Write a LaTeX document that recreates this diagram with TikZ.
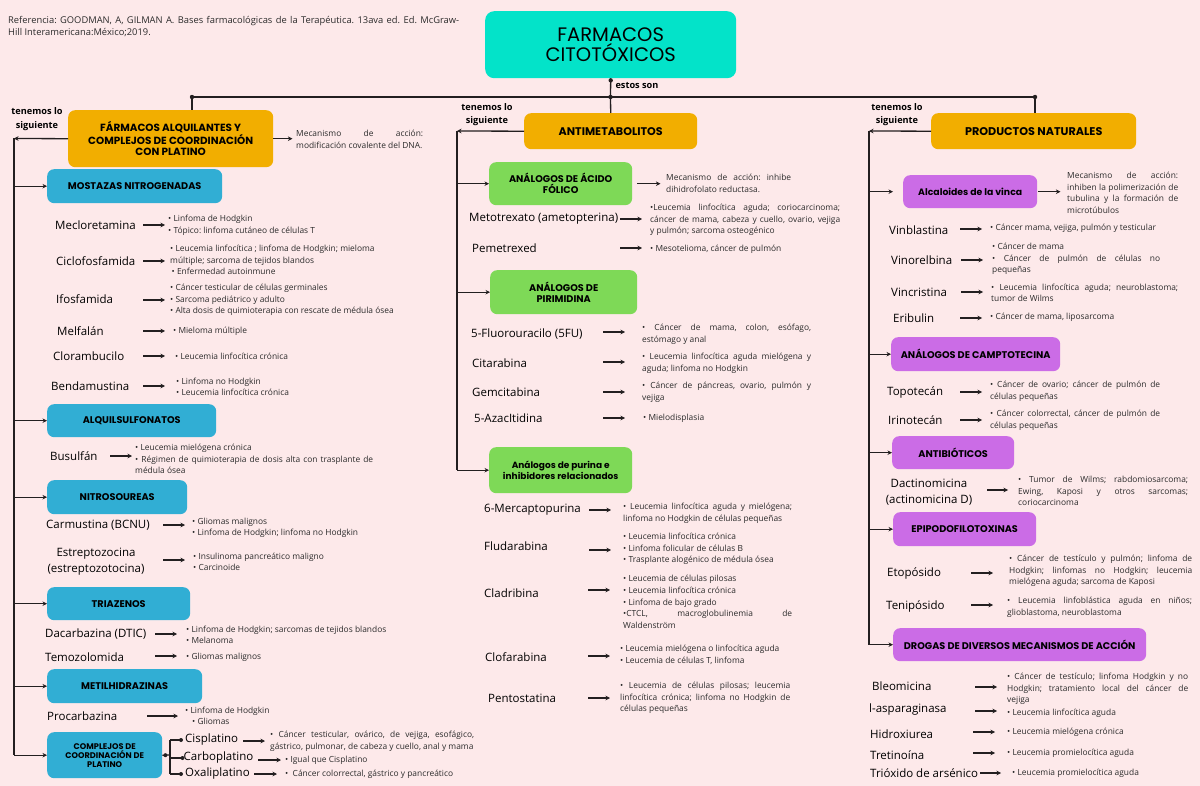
\documentclass[tikz,border=0pt]{standalone}
\usepackage{fontspec}
\setmainfont{Open Sans}
\newfontfamily\hf{Poppins}
\usetikzlibrary{arrows.meta,calc}
\definecolor{bg}{HTML}{FDE9EA}
\definecolor{tealc}{HTML}{03E3C9}
\definecolor{orng}{HTML}{F2AE00}
\definecolor{blu}{HTML}{31AED4}
\definecolor{grn}{HTML}{7ED957}
\definecolor{prp}{HTML}{CB6CE6}
\definecolor{ink}{HTML}{231F20}
\definecolor{txt}{HTML}{2B2B2B}
\hyphenpenalty=10000
\hbadness=10000
\hfuzz=20pt
\frenchspacing
\newcommand\arw[3]{\draw[arr] (#1,#3) -- (#2,#3);}
\begin{document}
\frenchspacing
\begin{tikzpicture}[x=1pt,y=-1pt,
  every node/.style={inner sep=0pt, text=txt},
  line/.style={draw=ink, line width=1.3pt},
  arr/.style={line, -{Stealth[length=4.5pt,width=4.5pt]}},
  hdr/.style={anchor=north west, rounded corners=7pt, align=center, font=\hf\bfseries\fontsize{9.7}{11.5}\selectfont, text=black},
  big/.style={hdr, font=\hf\bfseries\fontsize{11.1}{13}\selectfont},
  drug/.style={anchor=west, align=center, font=\fontsize{11.5}{16}\selectfont, text=black},
  desc/.style={anchor=west, align=left, font=\fontsize{8.4}{11.6}\selectfont},
  jd/.style={desc, align=justify, text width=#1},
  lab/.style={align=center, font=\bfseries\fontsize{9.2}{13.5}\selectfont, text=black},
]
\fill[bg] (0,0) rectangle (1200,786);
\useasboundingbox (0,0) rectangle (1200,786);

% ---------- reference and title ----------
\node[anchor=north west, align=justify, text width=451, font=\fontsize{9.35}{12.2}\selectfont] (ref) at (8,16)
  {Referencia: GOODMAN, A, GILMAN A. Bases farmacológicas de la Terapéutica. 13ava ed. Ed. McGraw-\linebreak Hill Interamericana:México;2019.};
\node[anchor=north west, fill=tealc, rounded corners=9pt, minimum width=251, minimum height=67, align=center,
  font=\hf\fontsize{19.5}{20}\selectfont, text=black] (title) at (485,11) {FARMACOS\\CITOTÓXICOS};

\node[big, fill=orng, minimum width=205, minimum height=57, font=\hf\bfseries\fontsize{10.4}{11.2}\selectfont] (alq) at (68,110)
  {FÁRMACOS ALQUILANTES Y\\COMPLEJOS DE COORDINACIÓN\\CON PLATINO};
\node[big, fill=orng, minimum width=173, minimum height=36] (anti) at (524,113) {ANTIMETABOLITOS};
\node[big, fill=orng, minimum width=205, minimum height=36, font=\hf\bfseries\fontsize{11.2}{13}\selectfont] (prod) at (931,113) {PRODUCTOS NATURALES};

\coordinate (hub) at (610.5,97);
\coordinate (Lc) at (192,97);
\coordinate (Rc) at (1035,97);
\draw[line] (title.south) -- (hub);
\draw[line] (Lc) -- (Rc);
\draw[line] (Lc) -- (Lc |- alq.north);
\draw[line] (hub) -- (anti.north);
\draw[line] (Rc) -- (Rc |- prod.north);
\fill[ink] ($(title.south)+(0,2)$) circle (2.2);
\fill[ink] (hub) circle (2.2);
\fill[ink] (Lc) circle (2.2);
\fill[ink] (Rc) circle (2.2);
\node[lab] (estos) at (637,86) {estos son};

\node[lab] (t1) at (37,119) {tenemos lo\\siguiente};
\node[lab] (t2) at (487,114.5) {tenemos lo\\siguiente};
\node[lab] (t3) at (897,114.5) {tenemos lo\\siguiente};

% ---------- left column ----------
\draw[arr] (alq.east) -- ++(19,0);
\node[jd=127] (alqmec) at (296,139.5) {Mecanismo de acción:\linebreak \mbox{modificación covalente del DNA.}};

\node[hdr, fill=blu, minimum width=175, minimum height=34] (most) at (47,169) {MOSTAZAS NITROGENADAS};
\node[hdr, fill=blu, minimum width=169, minimum height=33] (alqs) at (47,404) {ALQUILSULFONATOS};
\node[hdr, fill=blu, minimum width=140, minimum height=34] (nitro) at (47,480) {NITROSOUREAS};
\node[hdr, fill=blu, minimum width=143, minimum height=33] (tria) at (47,587) {TRIAZENOS};
\node[hdr, fill=blu, minimum width=155, minimum height=34] (metil) at (47,669) {METILHIDRAZINAS};
\node[hdr, fill=blu, minimum width=115, minimum height=46, font=\hf\bfseries\fontsize{8.2}{9}\selectfont] (compl) at (47,732) {COMPLEJOS DE\\COORDINACIÓN DE\\PLATINO};

\coordinate (LS) at (14,138.5);
\draw[arr] (alq.west) -- (LS);
\draw[line] (LS) -- (LS |- compl.west);
\foreach \b in {most,alqs,nitro,tria,metil,compl} \draw[arr] (\b.west -| LS) -- (\b.west);

\node[drug] (m1) at (55,225) {Mecloretamina};
\arw{143}{165}{225}
\node[desc] (d1) at (168,225) {• Linfoma de Hodgkin\\• Tópico: linfoma cutáneo de células T};

\node[drug] (m2) at (56,261) {Ciclofosfamida};
\arw{143}{165}{261}
\node[desc] (d2) at (170,260) {• Leucemia linfocítica ; linfoma de Hodgkin; mieloma\\múltiple; sarcoma de tejidos blandos\\\hspace*{1.5pt}• Enfermedad autoinmune};

\node[drug] (m3) at (56,299) {Ifosfamida};
\arw{143}{165}{300}
\node[desc] (d3) at (170,300) {• Cáncer testicular de células germinales\\• Sarcoma pediátrico y adulto\\• Alta dosis de quimioterapia con rescate de médula ósea};

\node[drug] (m4) at (57,331) {Melfalán};
\arw{143}{165}{331}
\node[desc] (d4) at (173,331) {• Mieloma múltiple};

\node[drug] (m5) at (53,356) {Clorambucilo};
\arw{143}{165}{356}
\node[desc] (d5) at (175,356) {• Leucemia linfocítica crónica};

\node[drug] (m6) at (51,386) {Bendamustina};
\arw{143}{165}{386}
\node[desc] (d6) at (176,387) {• Linfoma no Hodgkin\\• Leucemia linfocítica crónica};

\node[drug] (m7) at (50,456) {Busulfán};
\arw{110}{132}{456}
\node[jd=238] (d7) at (135,459) {• Leucemia mielógena crónica\par • Régimen de quimioterapia de dosis alta con trasplante de\linebreak médula ósea};

\node[drug] (m8) at (46,525) {Carmustina (BCNU)};
\arw{163}{185}{525}
\node[desc] (d8) at (192,528) {• Gliomas malignos\\• Linfoma de Hodgkin; linfoma no Hodgkin};

\node[drug, anchor=center] (m9) at (96,562) {Estreptozocina\\(estreptozotocina)};
\arw{163}{185}{560}
\node[desc] (d9) at (193,562) {• Insulinoma pancreático maligno\\• Carcinoide};

\node[drug] (m10) at (45,634) {Dacarbazina (DTIC)};
\arw{155}{177}{634}
\node[desc] (d10) at (186,635) {• Linfoma de Hodgkin; sarcomas de tejidos blandos\\• Melanoma};

\node[drug] (m11) at (45,657) {Temozolomida};
\arw{155}{177}{656}
\node[desc] (d11) at (186,657) {• Gliomas malignos};

\node[drug] (m12) at (47,716) {Procarbazina};
\arw{147}{178}{716}
\node[desc] (d12) at (185,716) {• Linfoma de Hodgkin\\\hspace*{7pt}• Gliomas};

% platinum bracket
\node[drug] (p1) at (185,740) {Cisplatino};
\node[drug] (p2) at (183.5,758) {Carboplatino};
\node[drug] (p3) at (185,774) {Oxaliplatino};
\coordinate (PB) at (170,755);
\draw[line] (compl.east) -- (PB);
\draw[line] (PB |- p1.west) -- (PB |- p3.west);
\draw[line] (PB |- p1.west) -- ([xshift=-4]p1.west);
\draw[line] (PB |- p2.west) -- ([xshift=-1]p2.west);
\draw[line] (PB |- p3.west) -- ([xshift=-4]p3.west);
\fill[ink] ([xshift=3]compl.east) circle (2);
\fill[ink] ([xshift=-4]p1.west) circle (2);
\fill[ink] ([xshift=-1]p2.west) circle (2);
\fill[ink] ([xshift=-4]p3.west) circle (2);
\arw{243}{265}{741}
\arw{258}{281}{760}
\arw{254}{277}{774}
\node[jd=204] (dp1) at (270,741) {• Cáncer testicular, ovárico, de vejiga, esofágico,\linebreak gástrico, pulmonar, de cabeza y cuello, anal y mama};
\node[desc] (dp2) at (285,760) {• Igual que Cisplatino};
\node[desc] (dp3) at (285,774) {•\ \ Cáncer colorrectal, gástrico y pancreático};

% ---------- middle column ----------
\coordinate (MS) at (457,131);
\draw[arr] (anti.west) -- (MS);
\node[hdr, fill=grn, minimum width=143, minimum height=43, font=\hf\bfseries\fontsize{9.7}{11.2}\selectfont] (fol) at (489,162) {ANÁLOGOS DE ÁCIDO\\FÓLICO};
\node[hdr, fill=grn, minimum width=147, minimum height=44, font=\hf\bfseries\fontsize{9.7}{11.2}\selectfont] (pir) at (490,270) {ANÁLOGOS DE\\PIRIMIDINA};
\node[hdr, fill=grn, minimum width=143, minimum height=46, font=\hf\bfseries\fontsize{9}{11}\selectfont] (pur) at (489,447) {Análogos de purina e\\inhibidores relacionados};
\draw[line] (MS) -- (MS |- pur.west);
\foreach \b in {fol,pir,pur} \draw[arr] (\b.west -| MS) -- (\b.west);

\draw[arr] ([xshift=5]fol.east) -- ++(23,0);
\node[jd=125] (folmec) at (666,183.5) {Mecanismo de acción: inhibe\linebreak dihidrofolato reductasa.};

\node[drug] (a1) at (469,219) {Metotrexato (ametopterina)};
\arw{620}{642}{219}
\node[jd=190] (e1) at (650,220) {•Leucemia linfocítica aguda; coriocarcinoma;\linebreak cáncer de mama, cabeza y cuello, ovario, vejiga\linebreak y pulmón; sarcoma osteogénico};

\node[drug] (a2) at (472,248) {Pemetrexed};
\arw{620}{642}{248}
\node[desc] (e2) at (650,249) {• Mesotelioma, cáncer de pulmón};

\node[drug] (a3) at (471,334) {5-Fluorouracilo (5FU)};
\arw{603}{625}{332}
\node[jd=169] (e3) at (642,334) {• Cáncer de mama, colon, esófago,\linebreak estómago y anal};

\node[drug] (a4) at (472,363) {Citarabina};
\arw{603}{625}{362}
\node[jd=169] (e4) at (642,363) {• Leucemia linfocítica aguda mielógena y\linebreak aguda; linfoma no Hodgkin};

\node[drug] (a5) at (472,392) {Gemcitabina};
\arw{603}{625}{392}
\node[jd=169] (e5) at (642,392) {• Cáncer de páncreas, ovario, pulmón y\linebreak vejiga};

\node[drug] (a6) at (474,418) {5-AzacItidina};
\arw{603}{625}{418}
\node[desc] (e6) at (643,418) {• Mielodisplasia};

\node[drug] (a7) at (484,510) {6-Mercaptopurina};
\arw{589}{611}{510}
\node[jd=169] (e7) at (623,513) {• Leucemia linfocítica aguda y mielógena;\linebreak linfoma no Hodgkin de células pequeñas};

\node[drug] (a8) at (484,546) {Fludarabina};
\arw{589}{611}{550}
\node[desc] (e8) at (623,549) {• Leucemia linfocítica crónica\\• Linfoma folicular de células B\\• Trasplante alogénico de médula ósea};

\node[drug] (a9) at (484,593) {Cladribina};
\arw{588}{610}{590}
\node[jd=169] (e9) at (623,602) {• Leucemia de células pilosas\par • Leucemia linfocítica crónica\par • Linfoma de bajo grado\par •CTCL, macroglobulinemia de\linebreak Waldenström};

\node[drug] (a10) at (485,657) {Clofarabina};
\arw{588}{610}{656}
\node[desc] (e10) at (620,655) {• Leucemia mielógena o linfocítica aguda\\• Leucemia de células T, linfoma};

\node[drug] (a11) at (488,698) {Pentostatina};
\arw{588}{610}{698}
\node[jd=170] (e11) at (620,698) {• Leucemia de células pilosas; leucemia\linebreak linfocítica crónica; linfoma no Hodgkin de\linebreak células pequeñas};

% ---------- right column ----------
\coordinate (RS) at (869,131);
\draw[arr] (prod.west) -- (RS);
\node[hdr, fill=prp, minimum width=134, minimum height=33, font=\hf\bfseries\fontsize{9.3}{11}\selectfont] (vinca) at (903,175) {Alcaloides de la vinca};
\node[hdr, fill=prp, minimum width=169, minimum height=34] (camp) at (891,337) {ANÁLOGOS DE CAMPTOTECINA};
\node[hdr, fill=prp, minimum width=122, minimum height=33] (antib) at (892,436) {ANTIBIÓTICOS};
\node[hdr, fill=prp, minimum width=143, minimum height=34] (epi) at (893,512) {EPIPODOFILOTOXINAS};
\node[hdr, fill=prp, minimum width=253, minimum height=33] (drog) at (893,628) {DROGAS DE DIVERSOS MECANISMOS DE ACCIÓN};
\draw[line] (RS) -- (RS |- drog.west);
\draw[arr] (vinca.west -| RS) -- ([xshift=-10]vinca.west);
\foreach \b in {camp,antib,epi,drog} \draw[arr] (\b.west -| RS) -- (\b.west);

\draw[arr] ([xshift=1]vinca.east) -- ++(22,0);
\node[jd=111] (vmec) at (1067,193) {Mecanismo de acción:\linebreak inhiben la polimerización de\linebreak tubulina y la formación de\linebreak microtúbulos};

\node[drug] (n1) at (889,230) {Vinblastina};
\arw{960}{982}{229}
\node[desc] (f1) at (990,228) {• Cáncer mama, vejiga, pulmón y testicular};

\node[drug] (n2) at (891,260) {Vinorelbina};
\arw{961}{983}{260}
\node[jd=168] (f2) at (992,259) {• Cáncer de mama\par • Cáncer de pulmón de células no\linebreak pequeñas};

\node[drug] (n3) at (891,292) {Vincristina};
\arw{961}{983}{292}
\node[jd=187] (f3) at (991,293) {• Leucemia linfocítica aguda; neuroblastoma;\linebreak tumor de Wilms};

\node[drug] (n4) at (893,318) {Eribulin};
\arw{960}{982}{318}
\node[desc] (f4) at (990,317) {• Cáncer de mama, liposarcoma};

\node[drug] (n5) at (887,392) {Topotecán};
\arw{960}{982}{392}
\node[jd=170] (f5) at (990,391) {• Cáncer de ovario; cáncer de pulmón de\linebreak células pequeñas};

\node[drug] (n6) at (888,420) {Irinotecán};
\arw{960}{982}{420}
\node[jd=170] (f6) at (990,420) {• Cáncer colorrectal, cáncer de pulmón de\linebreak células pequeñas};

\node[drug, anchor=center] (n7) at (929,492.5) {Dactinomicina\\(actinomicina D)};
\arw{987}{1008}{490}
\node[jd=170] (f7) at (1018,491) {• Tumor de Wilms; rabdomiosarcoma;\linebreak Ewing, Kaposi y otros sarcomas;\linebreak coriocarcinoma};

\node[drug] (n8) at (887,573) {Etopósido};
\arw{971}{993}{573}
\node[jd=183] (f8) at (1009,571) {• Cáncer de testículo y pulmón; linfoma de\linebreak Hodgkin; linfomas no Hodgkin; leucemia\linebreak mielógena aguda; sarcoma de Kaposi};

\node[drug] (n9) at (886,606) {Tenipósido};
\arw{971}{993}{605}
\node[jd=185] (f9) at (1007,607) {• Leucemia linfoblástica aguda en niños;\linebreak glioblastoma, neuroblastoma};

\node[drug] (n10) at (872,686) {Bleomicina};
\arw{975}{997}{687}
\node[jd=181] (f10) at (1007,689) {• Cáncer de testículo; linfoma Hodgkin y no\linebreak Hodgkin; tratamiento local del cáncer de\linebreak vejiga};

\node[drug] (n11) at (869,710) {l-asparaginasa};
\arw{975}{997}{711}
\node[desc] (f11) at (1007,713) {• Leucemia linfocítica aguda};

\node[drug] (n12) at (870,734) {Hidroxiurea};
\arw{973}{995}{732}
\node[desc] (f12) at (1007,732) {• Leucemia mielógena crónica};

\node[drug] (n13) at (870,755) {Tretinoína};
\arw{973}{995}{753}
\node[desc] (f13) at (1007,753) {• Leucemia promielocítica aguda};

\node[drug] (n14) at (870,773) {Trióxido de arsénico};
\arw{980}{1001}{773}
\node[desc] (f14) at (1012,773) {• Leucemia promielocítica aguda};
\end{tikzpicture}
\end{document}
